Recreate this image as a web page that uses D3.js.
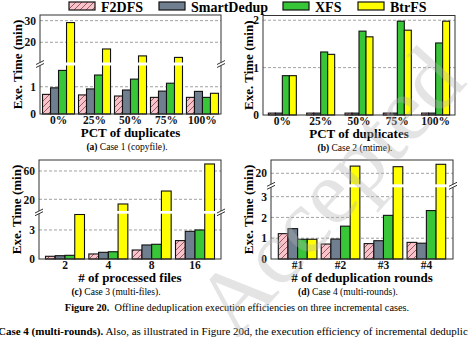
<!DOCTYPE html>
<html>
<head>
<meta charset="utf-8">
<script src="https://cdn.jsdelivr.net/npm/d3@7"></script>
<style>
  body { margin: 0; background: #fff; }
  svg { display: block; }
  text { font-family: "Liberation Serif", "Times New Roman", "DejaVu Serif", serif; }
</style>
</head>
<body>
<svg id="fig" width="474" height="337"></svg>
<script>
// series and categories
const seriesNames = ["F2DFS", "SmartDedup", "XFS", "BtrFS"];
const pctLabels = ["0%", "25%", "50%", "75%", "100%"];
const fileLabels = ["2", "4", "8", "16"];
const roundLabels = ["#1", "#2", "#3", "#4"];

// Case 1 (copyfile)
const case1F2dfs = [0.72, 0.70, 0.66, 0.61, 0.61];
const case1Smart = [0.96, 0.92, 0.88, 0.84, 0.83];
const case1Xfs = [1.60, 1.43, 1.28, 1.13, 0.61];
const case1Btrfs = [29.1, 16.9, 13.7, 13.0, 0.76];

// Case 2 (mtime)
const case2F2dfs = [0.04, 0.04, 0.04, 0.04, 0.04];
const case2Smart = [0.04, 0.04, 0.04, 0.04, 0.04];
const case2Xfs = [0.83, 1.33, 1.77, 1.98, 1.52];
const case2Btrfs = [0.83, 1.28, 1.65, 1.79, 1.98];

// Case 3 (multi-files)
const case3F2dfs = [0.28, 0.52, 0.93, 1.90];
const case3Smart = [0.34, 0.69, 1.45, 2.86];
const case3Xfs = [0.38, 0.75, 1.52, 3.00];
const case3Btrfs = [4.6, 13.4, 31.7, 69.9];

// Case 4 (multi-rounds)
const case4F2dfs = [1.22, 0.72, 0.74, 0.80];
const case4Smart = [1.46, 0.96, 0.88, 0.76];
const case4Xfs = [0.95, 1.58, 2.10, 2.33];
const case4Btrfs = [0.95, 22.4, 22.2, 23.0];

// y ticks
const case1LowTicks = [0, 1], case1UpTicks = [20, 30];
const case2Ticks = [0, 1, 2];
const case3LowTicks = [0, 3], case3UpTicks = [20, 60];
const case4LowTicks = [0, 1, 2, 3], case4UpTicks = [20];

const colors = { F2DFS: "url(#hatch)", SmartDedup: "#6f7f8f", XFS: "#38c638", BtrFS: "#ffff00" };

const svg = d3.select("#fig");

// hatch pattern for F2DFS
const defs = svg.append("defs");
const pat = defs.append("pattern")
    .attr("id", "hatch")
    .attr("patternUnits", "userSpaceOnUse")
    .attr("width", 6).attr("height", 6);
pat.append("rect").attr("width", 6).attr("height", 6).attr("fill", "#f7c4cc");
pat.append("path").attr("d", "M-1,7 L7,-1").attr("stroke", "#8a3a48").attr("stroke-width", 0.8);

// legend
const legendX = [69, 159, 283, 358];
const legend = svg.append("g");
seriesNames.forEach((s, i) => {
    legend.append("rect")
        .attr("x", legendX[i]).attr("y", 2)
        .attr("width", 26).attr("height", 8)
        .attr("fill", colors[s]).attr("stroke", "#111").attr("stroke-width", 1.2);
    legend.append("text")
        .attr("x", legendX[i] + 32).attr("y", 11.5)
        .attr("font-size", 14).attr("font-weight", "bold")
        .text(s);
});

function drawPanel(p) {
    const g = svg.append("g");

    const x0 = d3.scaleBand().domain(p.groups).range([p.left, p.right])
        .paddingInner(p.padIn).paddingOuter(p.padOut);
    const x1 = d3.scaleBand().domain(seriesNames).range([0, x0.bandwidth()]);

    const yLow = d3.scaleLinear().domain(p.lowDomain).range([p.bottom, p.upDomain ? p.breakLo : p.top]);
    const yUp = p.upDomain ? d3.scaleLinear().domain(p.upDomain).range([p.breakHi, p.top]) : null;
    const yOf = v => (!yUp || v <= p.lowDomain[1]) ? yLow(v) : yUp(v);

    // grid lines
    const grid = g.append("g");
    p.lowTicks.filter(t => t > 0).forEach(t => {
        grid.append("line").attr("x1", p.left).attr("x2", p.right)
            .attr("y1", yLow(t)).attr("y2", yLow(t));
    });
    (p.upTicks || []).forEach(t => {
        grid.append("line").attr("x1", p.left).attr("x2", p.right)
            .attr("y1", yUp(t)).attr("y2", yUp(t));
    });
    grid.selectAll("line").attr("stroke", "#8a8a8a").attr("stroke-width", 0.8)
        .attr("stroke-dasharray", "3,2");

    // bars
    const rows = [];
    p.groups.forEach((grp, gi) => {
        seriesNames.forEach((s, si) => rows.push({ grp, s, v: p.values[si][gi] }));
    });
    g.append("g").selectAll("rect").data(rows).enter().append("rect")
        .attr("x", d => x0(d.grp) + x1(d.s))
        .attr("y", d => yOf(d.v))
        .attr("width", x1.bandwidth())
        .attr("height", d => p.bottom - yOf(d.v))
        .attr("fill", d => colors[d.s])
        .attr("stroke", "#111").attr("stroke-width", 1.1);

    // frame
    g.append("rect").attr("x", p.left).attr("y", p.top)
        .attr("width", p.right - p.left).attr("height", p.bottom - p.top)
        .attr("fill", "none").attr("stroke", "#333").attr("stroke-width", 1);

    // axis break
    if (yUp) {
        g.append("rect").attr("x", p.left - 1).attr("y", p.breakHi)
            .attr("width", p.right - p.left + 2).attr("height", p.breakLo - p.breakHi)
            .attr("fill", "#fff");
        [p.left, p.right].forEach(xx => {
            [p.breakHi, p.breakLo].forEach(yy => {
                g.append("line").attr("x1", xx - 4).attr("y1", yy + 2)
                    .attr("x2", xx + 4).attr("y2", yy - 2)
                    .attr("stroke", "#333").attr("stroke-width", 1);
            });
        });
    }

    // y axes
    g.append("g").attr("transform", `translate(${p.left},0)`)
        .call(d3.axisLeft(yLow).tickValues(p.lowTicks).tickFormat(d3.format("d")).tickSize(0).tickPadding(4));
    if (yUp) {
        g.append("g").attr("transform", `translate(${p.left},0)`)
            .call(d3.axisLeft(yUp).tickValues(p.upTicks).tickFormat(d3.format("d")).tickSize(0).tickPadding(4));
    }
    // x axis
    g.append("g").attr("transform", `translate(0,${p.bottom})`)
        .call(d3.axisBottom(x0).tickSize(0).tickPadding(2));

    g.selectAll(".domain").remove();
    g.selectAll(".tick text")
        .attr("font-size", 11.5).attr("font-weight", "bold").attr("fill", "#111");

    // titles
    g.append("text")
        .attr("transform", `translate(${p.yTitleX},${(p.top + p.bottom) / 2}) rotate(-90)`)
        .attr("text-anchor", "middle").attr("dy", "0.35em")
        .attr("font-size", 13).attr("font-weight", "bold")
        .text("Exe. Time (min)");
    g.append("text")
        .attr("x", (p.left + p.right) / 2).attr("y", p.bottom + 23)
        .attr("text-anchor", "middle")
        .attr("font-size", 13).attr("font-weight", "bold")
        .text(p.xTitle);
    const cap = g.append("text")
        .attr("x", p.capX).attr("y", p.bottom + 35.5)
        .attr("text-anchor", "middle").attr("font-size", 9.5);
    cap.append("tspan").attr("font-weight", "bold").text(p.capTag);
    cap.append("tspan").text(" " + p.capText);
}

drawPanel({
    left: 40, right: 221, top: 15, bottom: 114, breakHi: 62.5, breakLo: 65.5,
    groups: pctLabels, values: [case1F2dfs, case1Smart, case1Xfs, case1Btrfs],
    lowDomain: [0, 1.78], upDomain: [10.65, 32.6], lowTicks: case1LowTicks, upTicks: case1UpTicks,
    padIn: 0.11, padOut: 0.07, yTitleX: 17,
    xTitle: "PCT of duplicates", capX: 127, capTag: "(a)", capText: "Case 1 (copyfile)."
});

drawPanel({
    left: 263, right: 455, top: 15.5, bottom: 115,
    groups: pctLabels, values: [case2F2dfs, case2Smart, case2Xfs, case2Btrfs],
    lowDomain: [0, 2.1], upDomain: null, lowTicks: case2Ticks, upTicks: null,
    padIn: 0.27, padOut: 0.14, yTitleX: 248,
    xTitle: "PCT of duplicates", capX: 355, capTag: "(b)", capText: "Case 2 (mtime)."
});

drawPanel({
    left: 39, right: 221, top: 160, bottom: 259, breakHi: 211, breakLo: 213.7,
    groups: fileLabels, values: [case3F2dfs, case3Smart, case3Xfs, case3Btrfs],
    lowDomain: [0, 4.68], upDomain: [3.5, 75.5], lowTicks: case3LowTicks, upTicks: case3UpTicks,
    padIn: 0.1, padOut: 0.15, yTitleX: 16,
    xTitle: "# of processed files", capX: 116, capTag: "(c)", capText: "Case 3 (multi-files)."
});

drawPanel({
    left: 271, right: 453, top: 160, bottom: 259, breakHi: 184.3, breakLo: 187.3,
    groups: roundLabels, values: [case4F2dfs, case4Smart, case4Xfs, case4Btrfs],
    lowDomain: [0, 3.45], upDomain: [16.33, 24.43], lowTicks: case4LowTicks, upTicks: case4UpTicks,
    padIn: 0.1, padOut: 0.17, yTitleX: 248,
    xTitle: "# of deduplication rounds", capX: 348, capTag: "(d)", capText: "Case 4 (multi-rounds)."
});

// figure caption
const figCap = svg.append("text").attr("x", 237).attr("y", 311)
    .attr("text-anchor", "middle").attr("font-size", 10.3);
figCap.append("tspan").attr("font-weight", "bold").text("Figure 20.");
figCap.append("tspan").text("\u00a0 Offline deduplication execution efficiencies on three incremental cases.");

// body text line (cut at the page edge as in the source)
const body = svg.append("text").attr("x", -2).attr("y", 335).attr("font-size", 11);
body.append("tspan").attr("font-weight", "bold").text("Case 4 (multi-rounds).");
body.append("tspan").text(" Also, as illustrated in Figure 20d, the execution efficiency of incremental deduplic");

// watermark
svg.append("text")
    .attr("transform", "translate(352,212) rotate(-48)")
    .attr("text-anchor", "middle")
    .attr("font-family", "Liberation Sans, sans-serif")
    .attr("font-size", 92)
    .attr("fill", "#b4b4b4").attr("opacity", 0.35)
    .text("Accepted");
</script>
</body>
</html>
